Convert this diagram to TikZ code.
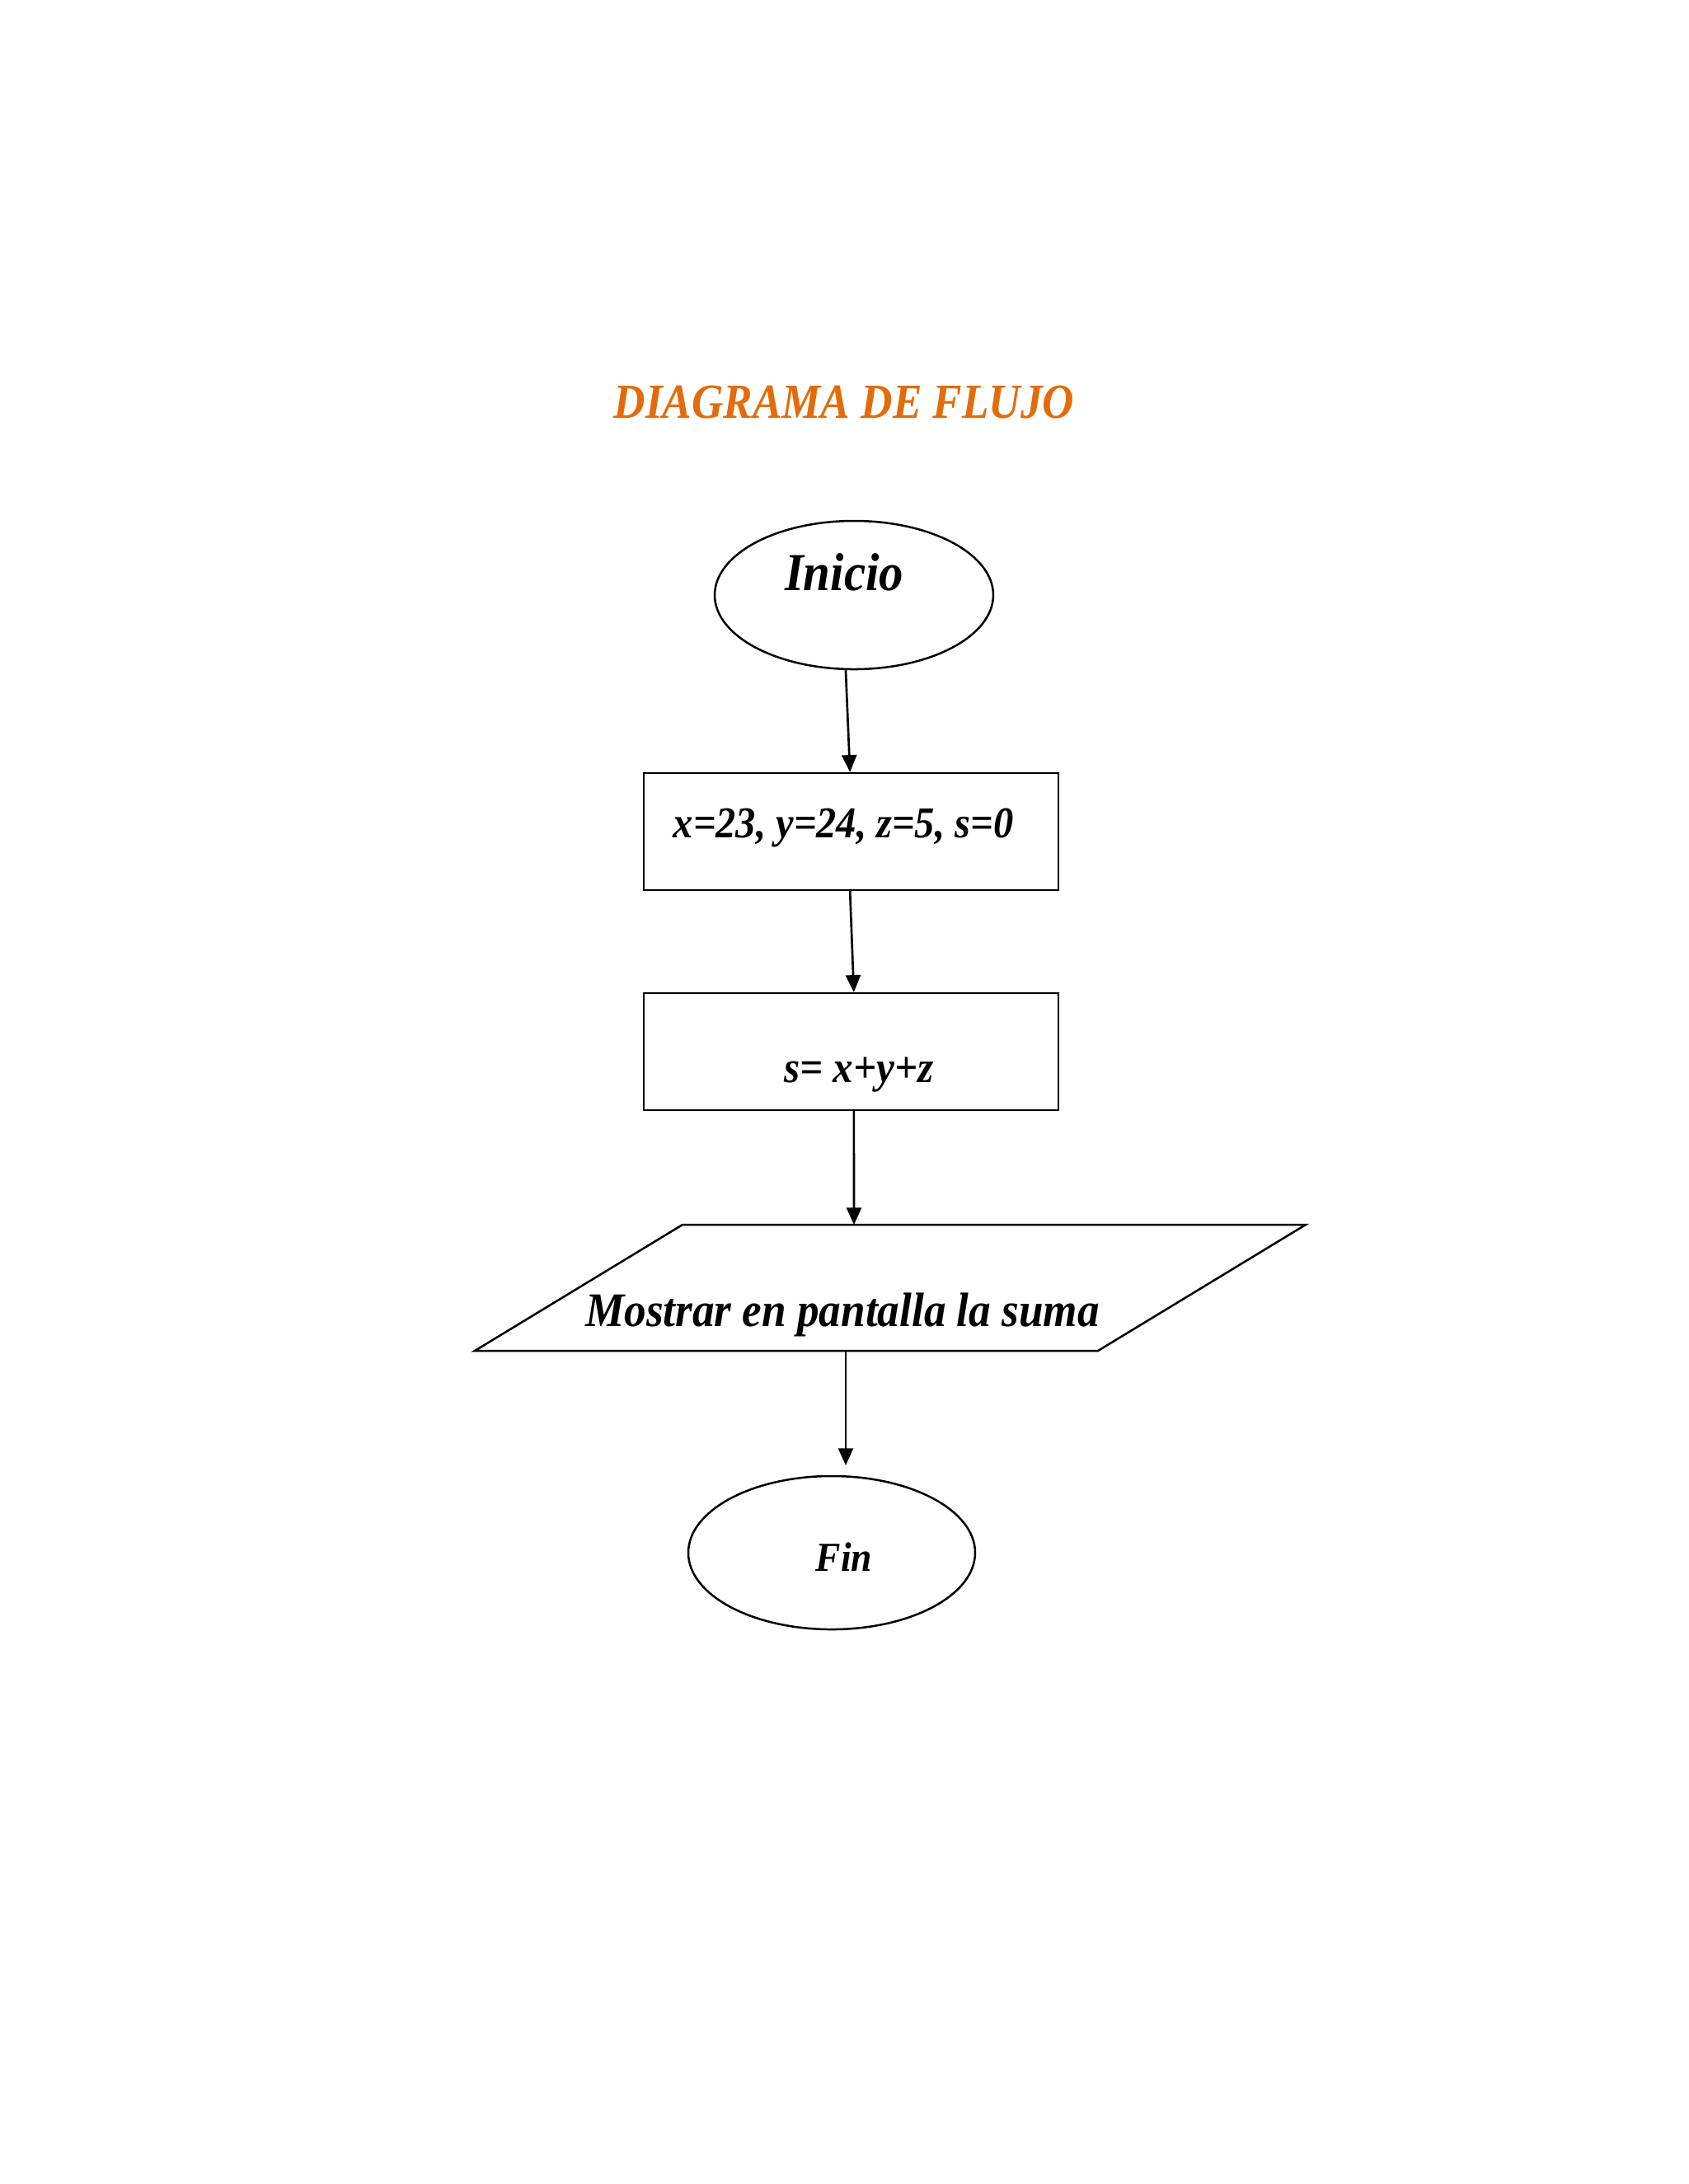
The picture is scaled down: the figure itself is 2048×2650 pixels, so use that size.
\documentclass[tikz,border=0pt]{standalone}
\usepackage{fontspec}
\setmainfont{Liberation Serif}
\usetikzlibrary{shapes.geometric,arrows.meta}
\definecolor{titleorange}{HTML}{E36C0A}
\begin{document}
\begin{tikzpicture}[x=0.29886pt,y=-0.29886pt,
  shapeline/.style={draw=black,line width=0.75pt,inner sep=0pt},
  termbox/.style={shapeline,ellipse},
  procbox/.style={shapeline,rectangle,minimum width=150.3pt,minimum height=42.4pt},
  lbl/.style={inner sep=0pt,anchor=base,font=\bfseries\itshape},
  arr/.style={-{Triangle[length=6.2pt,width=5.4pt]},line width=0.8pt}]
\useasboundingbox[fill=white] (0,0) rectangle (2048,2650);
% title
\node[lbl,text=titleorange,font=\fontsize{15.9}{18}\selectfont\bfseries\itshape] (title) at (1024,507) {\scalebox{1}[1.12]{DIAGRAMA DE FLUJO}};
% shapes
\node[termbox,minimum width=101pt,minimum height=53.8pt] (ini) at (1036,722) {};
\node[procbox] (r1) at (1032.5,1009) {};
\node[procbox] (r2) at (1032.5,1276) {};
\coordinate (pa) at (828,1486);
\coordinate (pb) at (1584,1486);
\coordinate (pc) at (1332,1639);
\coordinate (pd) at (576,1639);
\draw[line width=0.75pt,line join=miter] (pa) -- (pb) -- (pc) -- (pd) -- cycle;
\coordinate (ptop) at (1036,1486);
\coordinate (pbot) at (1026,1639);
\coordinate (finend) at (1026,1778);
\node[termbox,minimum width=104pt,minimum height=55.6pt] (fin) at (1009,1884) {};
% texts
\node[lbl,font=\fontsize{17.6}{20}\selectfont\bfseries\itshape] (tini) at (1024,716) {\scalebox{1}[1.1]{Inicio}};
\node[lbl,font=\fontsize{14.5}{17}\selectfont\bfseries\itshape] (tr1) at (1023,1016) {\scalebox{1}[1.1]{x=23, y=24, z=5, s=0}};
\node[lbl,font=\fontsize{14.7}{17}\selectfont\bfseries\itshape] (tr2) at (1042,1313) {\scalebox{1}[1.1]{s= x+y+z}};
\node[lbl,font=\fontsize{15.9}{18}\selectfont\bfseries\itshape] (tpar) at (1022,1609) {\scalebox{1}[1.1]{Mostrar en pantalla la suma}};
\node[lbl,font=\fontsize{13.6}{16}\selectfont\bfseries\itshape] (tfin) at (1024,1906) {\scalebox{1}[1.1]{Fin}};
% connectors
\draw[arr] ([xshift=-3pt]ini.south) -- ([xshift=-0.4pt]r1.north);
\draw[arr] ([xshift=-0.4pt]r1.south) -- ([xshift=1pt]r2.north);
\draw[arr] ([xshift=1pt]r2.south) -- (ptop);
\draw[arr] (pbot) -- (finend);
\end{tikzpicture}
\end{document}
